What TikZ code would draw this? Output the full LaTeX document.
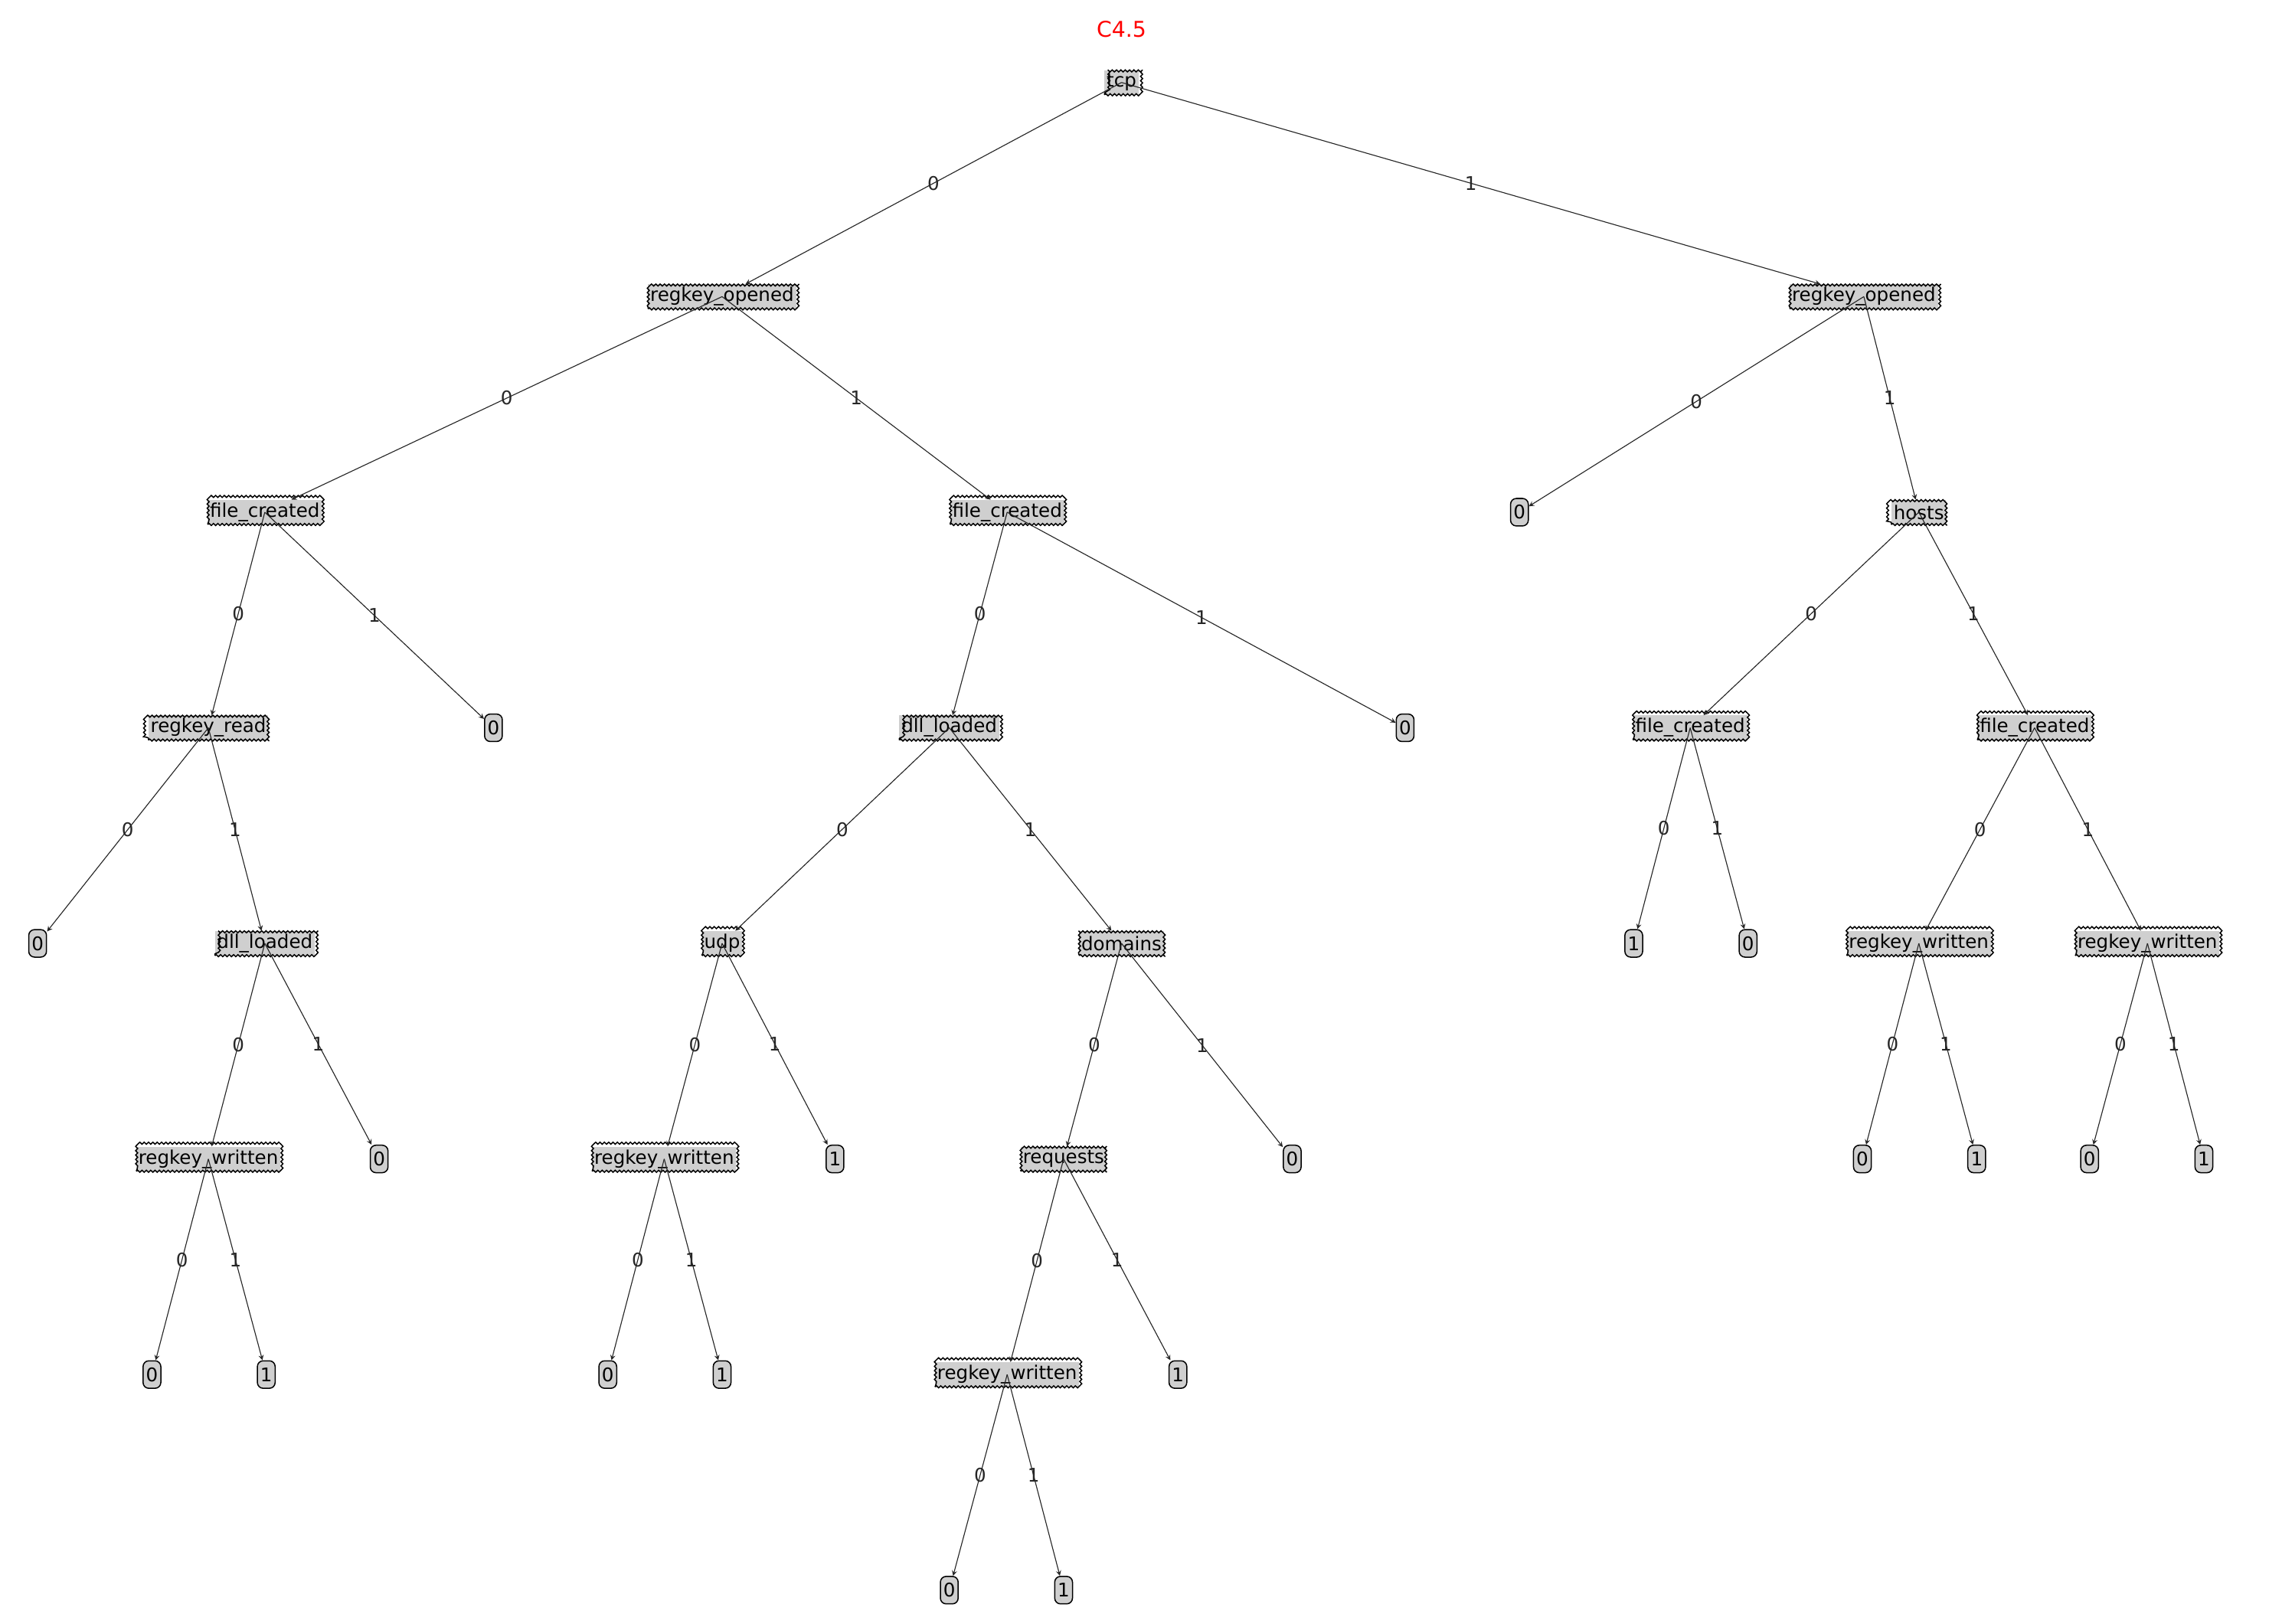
\documentclass[tikz,border=0pt]{standalone}
\usepackage{fontspec}
\setmainfont{DejaVu Sans}
\usetikzlibrary{decorations.pathmorphing}
\begin{document}
\begin{tikzpicture}[x=1pt,y=-1pt,font=\fontsize{13}{15}\selectfont,
  dec/.style={fill=black!19,inner sep=1.5pt,minimum height=17pt,
    postaction={draw,thick,decorate,decoration={snake,amplitude=0.7pt,segment length=3pt}}},
  leaf/.style={fill=black!19,draw,thick,rounded corners=4pt,inner sep=2pt,minimum height=19pt},
  edge/.style={->,>=stealth,semithick,black!85},
  lab/.style={midway,inner sep=0pt}]
\useasboundingbox (0,0) rectangle (1568,1122);
\node[red,font=\fontsize{15}{17}\selectfont] (title) at (775,20) {C4.5};
\node[dec] (r) at (775,57) {tcp};
\node[dec] (A) at (499,205) {regkey\_opened};
\node[dec] (B) at (1288,205) {regkey\_opened};
\node[dec] (A0) at (183,354) {file\_created};
\node[dec] (A1) at (696,354) {file\_created};
\node[leaf] (B0) at (1050,354) {0};
\node[dec] (B1) at (1326,354) {hosts};
\node[dec] (A00) at (144,503) {regkey\_read};
\node[leaf] (A01) at (341,503) {0};
\node[dec] (A10) at (656,503) {dll\_loaded};
\node[leaf] (A11) at (971,503) {0};
\node[dec] (B10) at (1168,503) {file\_created};
\node[dec] (B11) at (1406,503) {file\_created};
\node[leaf] (A000) at (26,652) {0};
\node[dec] (A001) at (183,652) {dll\_loaded};
\node[dec] (A100) at (499,652) {udp};
\node[dec] (A101) at (775,652) {domains};
\node[leaf] (B100) at (1129,652) {1};
\node[leaf] (B101) at (1208,652) {0};
\node[dec] (B110) at (1326,652) {regkey\_written};
\node[dec] (B111) at (1484,652) {regkey\_written};
\node[dec] (A0010) at (144,801) {regkey\_written};
\node[leaf] (A0011) at (262,801) {0};
\node[dec] (A1000) at (459,801) {regkey\_written};
\node[leaf] (A1001) at (577,801) {1};
\node[dec] (A1010) at (735,801) {requests};
\node[leaf] (A1011) at (893,801) {0};
\node[leaf] (B1100) at (1287,801) {0};
\node[leaf] (B1101) at (1366,801) {1};
\node[leaf] (B1110) at (1444,801) {0};
\node[leaf] (B1111) at (1523,801) {1};
\node[leaf] (A00100) at (105,950) {0};
\node[leaf] (A00101) at (184,950) {1};
\node[leaf] (A10000) at (420,950) {0};
\node[leaf] (A10001) at (499,950) {1};
\node[dec] (A10100) at (696,950) {regkey\_written};
\node[leaf] (A10101) at (814,950) {1};
\node[leaf] (A101000) at (656,1099) {0};
\node[leaf] (A101001) at (735,1099) {1};
\foreach \p/\c/\l in {r/A/0,r/B/1,A/A0/0,A/A1/1,B/B0/0,B/B1/1,
  A0/A00/0,A0/A01/1,A1/A10/0,A1/A11/1,B1/B10/0,B1/B11/1,
  A00/A000/0,A00/A001/1,A10/A100/0,A10/A101/1,B10/B100/0,B10/B101/1,
  B11/B110/0,B11/B111/1,A001/A0010/0,A001/A0011/1,A100/A1000/0,A100/A1001/1,
  A101/A1010/0,A101/A1011/1,B110/B1100/0,B110/B1101/1,B111/B1110/0,B111/B1111/1,
  A0010/A00100/0,A0010/A00101/1,A1000/A10000/0,A1000/A10001/1,
  A1010/A10100/0,A1010/A10101/1,A10100/A101000/0,A10100/A101001/1}
  \draw[edge] (\p.center) -- (\c) node[lab] {\l};
\end{tikzpicture}
\end{document}
